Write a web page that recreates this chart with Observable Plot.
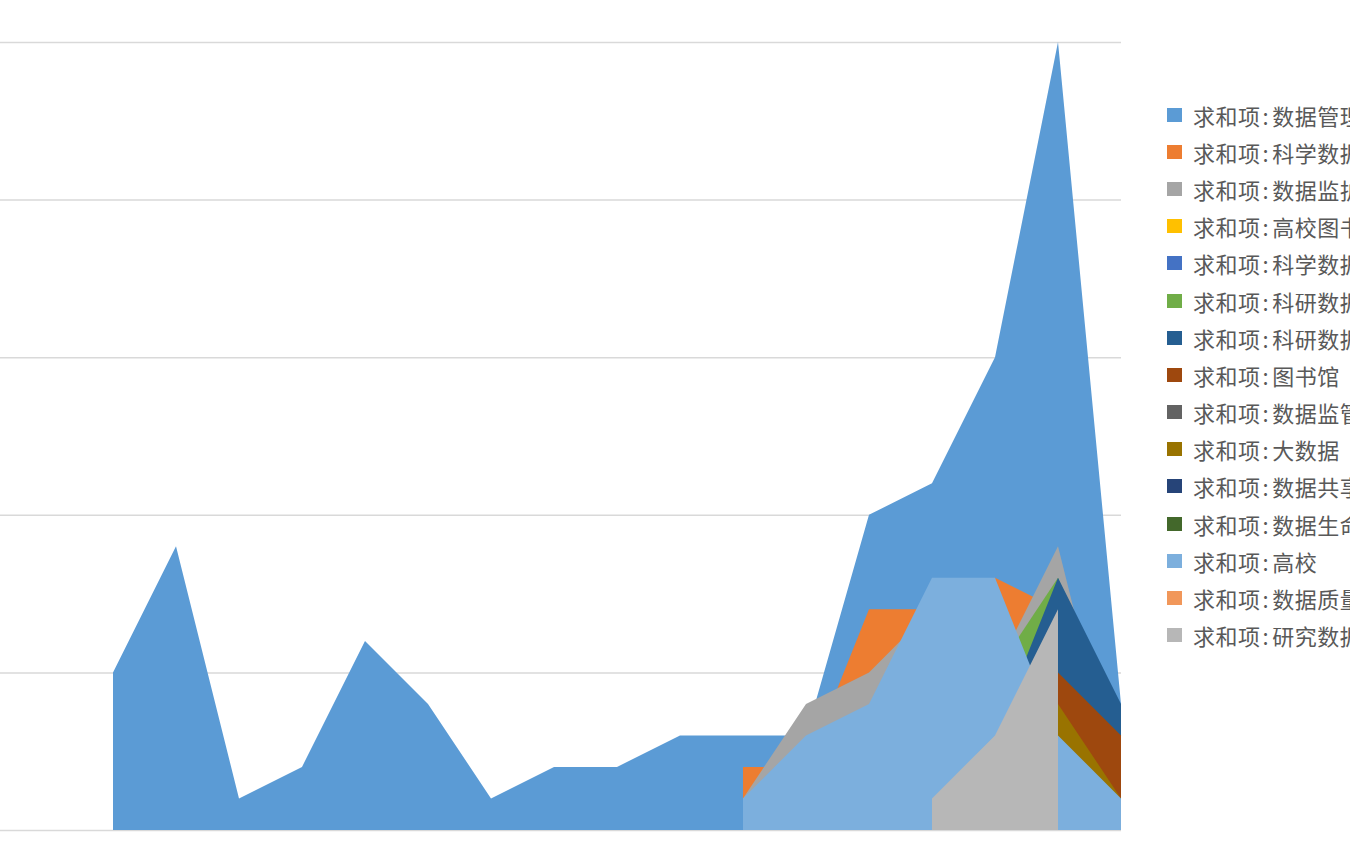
<!DOCTYPE html>
<html>
<head>
<meta charset="utf-8">
<script src="https://cdn.jsdelivr.net/npm/d3@7"></script>
<script src="https://cdn.jsdelivr.net/npm/@observablehq/plot@0.6"></script>
<style>
  html, body { margin: 0; padding: 0; background: #fff; overflow: hidden; width: 1350px; height: 843px; }
  #chart { position: absolute; left: 0; top: 0; }
  #legend { position: absolute; left: 1167px; top: 96px; white-space: nowrap;
    font-family: "Noto Sans CJK SC", "Noto Sans", sans-serif; font-size: 22px; color: #595959; }
  .row { height: 37.2px; display: flex; align-items: center; }
  .sw { width: 15px; height: 14px; margin-right: 11px; flex: none; }
  .lab { letter-spacing: 0.5px; }
  .colon { margin: 0 3px 0 2px; }
</style>
</head>
<body>
<div id="chart"></div>
<div id="legend"></div>
<script>
// categories (x axis labels are not visible in the reference)
const years = [2002, 2003, 2004, 2005, 2006, 2007, 2008, 2009, 2010, 2011, 2012, 2013, 2014, 2015, 2016, 2017, 2018];
const yTicks = [0, 5, 10, 15, 20, 25];

const seriesNames = [
  "求和项:数据管理", "求和项:科学数据", "求和项:数据监护", "求和项:高校图书馆", "求和项:科学数据管理",
  "求和项:科研数据", "求和项:科研数据管理", "求和项:图书馆", "求和项:数据监管", "求和项:大数据",
  "求和项:数据共享", "求和项:数据生命周期", "求和项:高校", "求和项:数据质量", "求和项:研究数据"
];
const seriesColors = [
  "#5B9BD5", "#ED7D31", "#A5A5A5", "#FFC000", "#4472C4",
  "#70AD47", "#255E91", "#9E480E", "#636363", "#997300",
  "#264478", "#43682B", "#7CAFDD", "#F1975A", "#B7B7B7"
];

const s01 = [5, 9, 1, 2, 6, 4, 1, 2, 2, 3, 3, 3, 10, 11, 15, 25, 4];
const s02 = [null, null, null, null, null, null, null, null, null, null, 2, 2, 7, 7, 8, 7, 3];
const s03 = [null, null, null, null, null, null, null, null, null, null, 1, 4, 5, 7, 5, 9, 1];
const s04 = [null, null, null, null, null, null, null, null, null, null, null, null, null, 1, 2, 3, 1];
const s05 = [null, null, null, null, null, null, null, null, null, null, null, null, null, 1, 2, 6, 2];
const s06 = [null, null, null, null, null, null, null, null, null, null, null, null, null, 2, 5, 8, 3];
const s07 = [null, null, null, null, null, null, null, null, null, null, null, null, null, 1, 3, 8, 4];
const s08 = [null, null, null, null, null, null, null, null, null, null, null, null, null, 1, 2, 5, 3];
const s09 = [null, null, null, null, null, null, null, null, null, null, null, null, null, 1, 1, 3, 1];
const s10 = [null, null, null, null, null, null, null, null, null, null, null, null, null, 1, 2, 4, 1];
const s11 = [null, null, null, null, null, null, null, null, null, null, null, null, null, null, 1, 2, 1];
const s12 = [null, null, null, null, null, null, null, null, null, null, null, null, null, null, 1, 2, 1];
const s13 = [null, null, null, null, null, null, null, null, null, null, 1, 3, 4, 8, 8, 3, 1];
const s14 = [null, null, null, null, null, null, null, null, null, null, null, null, null, null, 1, 2, null];
const s15 = [null, null, null, null, null, null, null, null, null, null, null, null, null, 1, 3, 7, null];

const seriesValues = [s01, s02, s03, s04, s05, s06, s07, s08, s09, s10, s11, s12, s13, s14, s15];

const step = 1; // one category per year
const firstOffset = 113 / 63; // blank categories to the left of the first drawn point

const areas = seriesValues.map((vals, k) =>
  Plot.areaY(
    years.map((yr, i) => ({ year: yr, v: vals[i] })),
    { x: "year", y1: 0, y2: "v", fill: seriesColors[k], curve: "linear" }
  )
);

const chart = Plot.plot({
  width: 1130,
  height: 843,
  marginLeft: 0,
  marginRight: 9,
  marginTop: 42,
  marginBottom: 13,
  style: { background: "transparent" },
  x: { type: "linear", domain: [years[0] - firstOffset * step, years[years.length - 1]], axis: null },
  y: { domain: [0, 25], axis: null },
  marks: [
    Plot.ruleY(yTicks, { stroke: "#d9d9d9", strokeWidth: 1.5 }),
    ...areas
  ]
});
document.getElementById("chart").appendChild(chart);

const legend = document.getElementById("legend");
seriesNames.forEach((name, k) => {
  const row = document.createElement("div");
  row.className = "row";
  const sw = document.createElement("span");
  sw.className = "sw";
  sw.style.background = seriesColors[k];
  const lab = document.createElement("span");
  lab.className = "lab";
  const [head, tail] = name.split(":");
  const a = document.createElement("span"); a.textContent = head;
  const c = document.createElement("span"); c.className = "colon"; c.textContent = ":";
  const b = document.createElement("span"); b.textContent = tail;
  lab.appendChild(a); lab.appendChild(c); lab.appendChild(b);
  row.appendChild(sw);
  row.appendChild(lab);
  legend.appendChild(row);
});
</script>
</body>
</html>
